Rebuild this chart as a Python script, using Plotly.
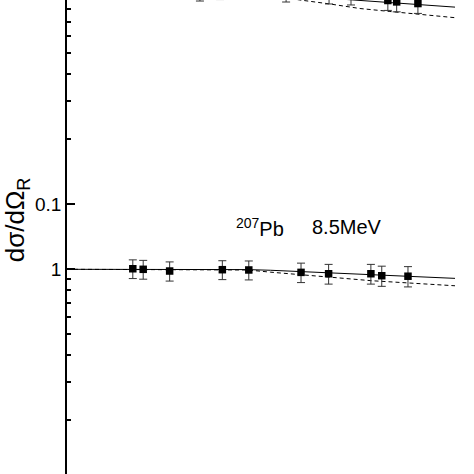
import plotly.graph_objects as go

# ---- data (theta in degrees, ratio to Rutherford) ----
# upper panel (drawn on the "0.1" scale)
upper_pts_theta = [58.8, 67.7, 96.9, 115.9, 125.6, 141.9, 145.8, 155.2]
upper_pts_ratio = [0.97, 0.985, 0.96, 0.94, 0.93, 0.878, 0.865, 0.85]
upper_pts_err = [0.097, 0.098, 0.096, 0.094, 0.093, 0.088, 0.087, 0.085]

upper_solid_theta = [0, 40, 60, 80, 100, 120, 140, 160, 171.6]
upper_solid_ratio = [1.0, 1.0, 0.995, 0.98, 0.945, 0.893, 0.862, 0.838, 0.818]
upper_dash_theta = [0, 40, 60, 80, 90, 103, 116.3, 129.6, 142.8, 156.1, 171.6]
upper_dash_ratio = [1.0, 1.0, 0.99, 0.96, 0.93, 0.883, 0.846, 0.806, 0.781, 0.756, 0.731]

# lower panel: 207Pb 8.5 MeV (drawn on the "1" scale)
lower_pts_theta = [29.1, 33.7, 45.4, 68.7, 80.4, 103.5, 115.7, 134.4, 139.2, 150.8]
lower_pts_ratio = [1.006, 1.0, 0.982, 0.996, 0.993, 0.968, 0.954, 0.954, 0.934, 0.929]
lower_pts_err = [0.10, 0.10, 0.10, 0.10, 0.10, 0.10, 0.10, 0.10, 0.10, 0.10]

lower_solid_theta = [0, 20, 40, 60, 80, 90, 103.5, 115.7, 134.4, 150.8, 171.6]
lower_solid_ratio = [1.0, 1.0, 1.0, 1.0, 0.997, 0.99, 0.975, 0.962, 0.944, 0.928, 0.908]
lower_dash_theta = [0, 20, 40, 60, 70, 80, 90, 103.5, 115.7, 134.4, 150.8, 171.6]
lower_dash_ratio = [1.0, 1.0, 1.0, 1.0, 1.0, 0.993, 0.97, 0.941, 0.921, 0.886, 0.864, 0.839]

upper_tick_vals = [0.1]
upper_tick_text = ["0.1"]
upper_minor_vals = [0.2, 0.3, 0.4, 0.5, 0.6, 0.7, 0.8, 0.9]
lower_tick_vals = [1]
lower_tick_text = ["1"]
lower_minor_vals = [0.2, 0.3, 0.4, 0.5, 0.6, 0.7, 0.8, 0.9]

label_iso = "<sup>207</sup>Pb"
label_energy = "8.5MeV"
y_title = "dσ/dΩ<sub>R</sub>"

FONT = "Arial, Liberation Sans, Helvetica, sans-serif"

fig = go.Figure()

def add_panel(yaxis, pts_t, pts_r, pts_e, s_t, s_r, d_t, d_r):
    fig.add_trace(go.Scatter(x=d_t, y=d_r, mode="lines", yaxis=yaxis,
                             line=dict(color="black", width=1, dash="4px,3px"),
                             showlegend=False, hoverinfo="skip"))
    fig.add_trace(go.Scatter(x=s_t, y=s_r, mode="lines", yaxis=yaxis,
                             line=dict(color="black", width=1),
                             showlegend=False, hoverinfo="skip"))
    fig.add_trace(go.Scatter(x=pts_t, y=pts_r, mode="markers", yaxis=yaxis,
                             marker=dict(symbol="square", size=7.5, color="black"),
                             error_y=dict(type="data", array=pts_e, visible=True,
                                          color="#333333", thickness=1, width=4),
                             showlegend=False, cliponaxis=True))

add_panel("y", upper_pts_theta, upper_pts_ratio, upper_pts_err,
          upper_solid_theta, upper_solid_ratio, upper_dash_theta, upper_dash_ratio)
add_panel("y2", lower_pts_theta, lower_pts_ratio, lower_pts_err,
          lower_solid_theta, lower_solid_ratio, lower_dash_theta, lower_dash_ratio)

top_log = -0.0542
span = 2.1944
offset = 1.301  # log10(20): lower panel shift

common = dict(type="log", showgrid=False, zeroline=False, showline=True,
              linecolor="black", linewidth=1.6, ticks="inside", ticklen=8,
              tickwidth=1.6, tickcolor="black", layer="above traces",
              tickfont=dict(family=FONT, size=19, color="black"),
              domain=[0, 1])

fig.update_layout(
    width=474, height=474,
    margin=dict(l=67, r=0, t=0, b=0),
    paper_bgcolor="white", plot_bgcolor="white",
    xaxis=dict(range=[0, 180], visible=False),
    yaxis=dict(range=[top_log - span, top_log], tickmode="array",
               tickvals=upper_tick_vals, ticktext=upper_tick_text,
               minor=dict(tickmode="array", tickvals=upper_minor_vals, ticks="inside",
                          ticklen=4, tickwidth=1.6, tickcolor="black"),
               **common),
    yaxis2=dict(range=[top_log - span + offset, top_log + offset], overlaying="y",
                side="left", anchor="x", tickmode="array",
                tickvals=lower_tick_vals, ticktext=lower_tick_text,
                minor=dict(tickmode="array", tickvals=lower_minor_vals, ticks="inside",
                           ticklen=4, tickwidth=1.6, tickcolor="black"),
                **common),
    annotations=[
        dict(text=y_title, xref="paper", yref="paper", x=-0.122, y=0.536,
             textangle=-90, showarrow=False, xanchor="center", yanchor="middle",
             font=dict(family=FONT, size=26, color="black")),
        dict(text=label_iso, xref="paper", yref="paper", x=0.411, y=0.521,
             showarrow=False, xanchor="left", yanchor="middle",
             font=dict(family=FONT, size=20, color="black")),
        dict(text=label_energy, xref="paper", yref="paper", x=0.598, y=0.521,
             showarrow=False, xanchor="left", yanchor="middle",
             font=dict(family=FONT, size=20, color="black")),
    ],
)

fig.write_html("out.html", config={"displayModeBar": False},
               post_script="document.body.style.margin='0';document.body.style.padding='0';")
